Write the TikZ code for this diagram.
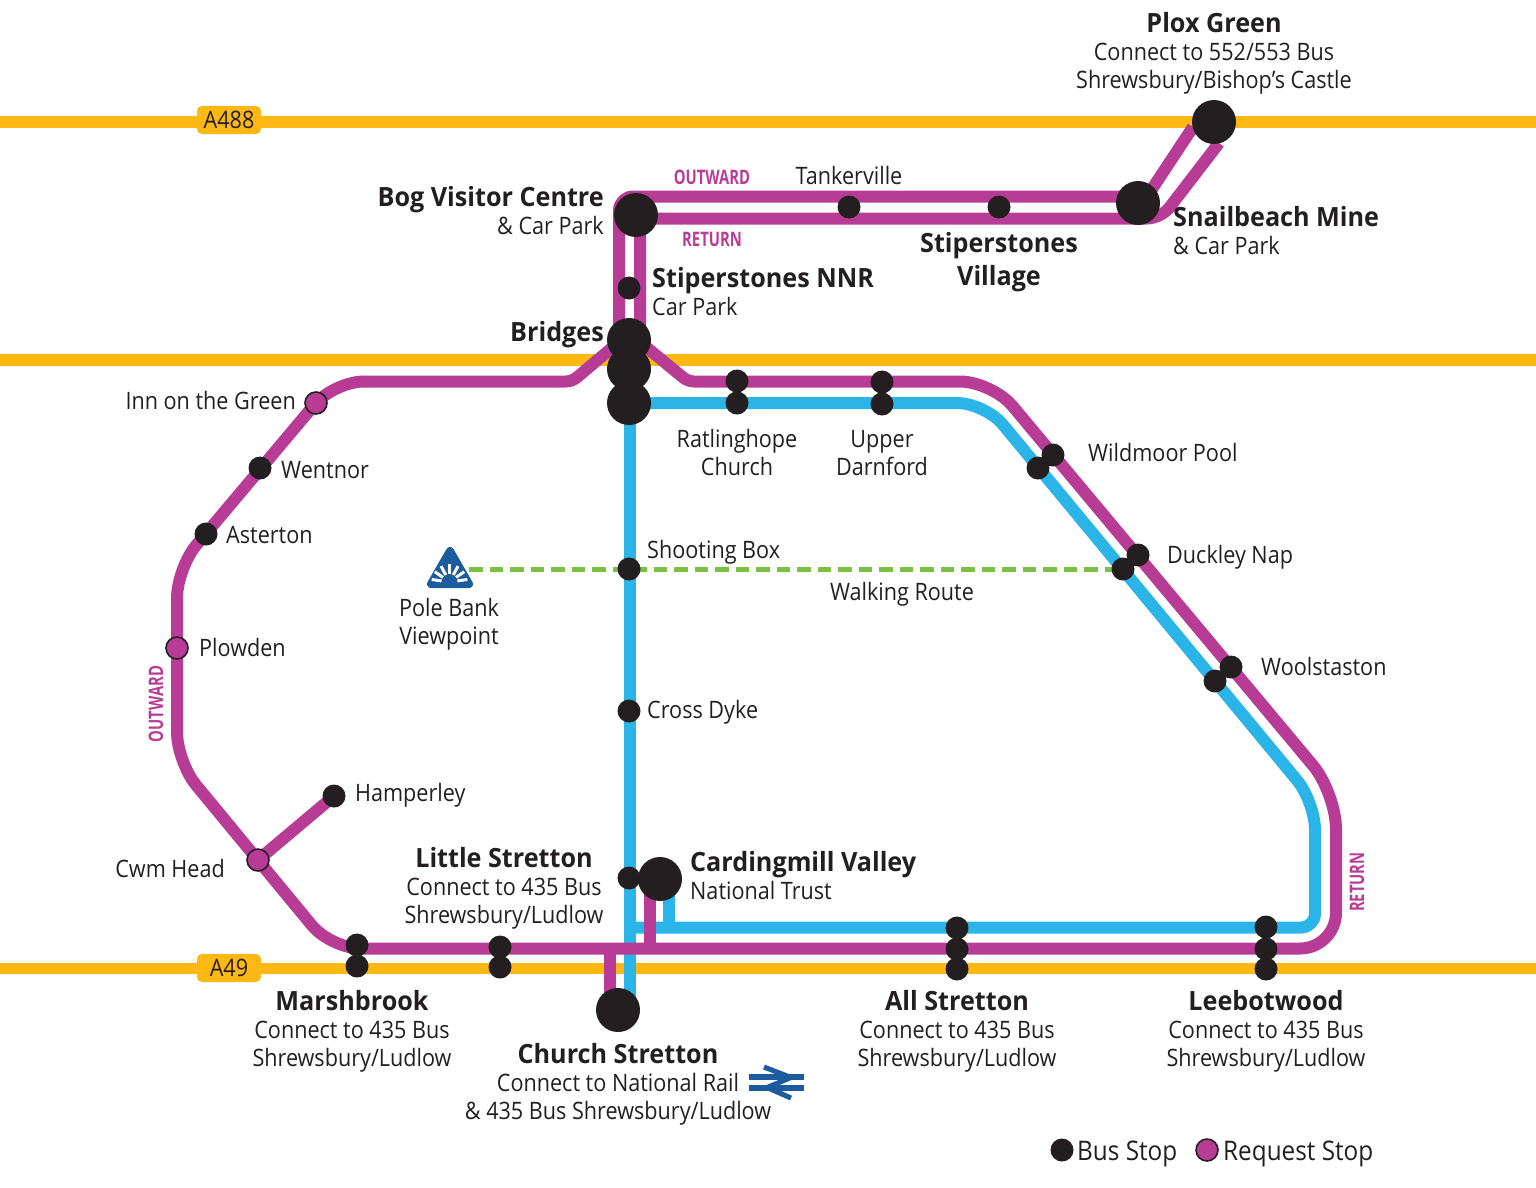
\documentclass[tikz,border=0pt]{standalone}
\usepackage{fontspec}
\setmainfont[FakeStretch=0.9,BoldFeatures={FakeStretch=0.95}]{Open Sans}
\newfontfamily\condfont[FakeStretch=0.74]{Open Sans}
\definecolor{rpurple}{HTML}{B83C96}
\definecolor{rorange}{HTML}{FDB813}
\definecolor{rblue}{HTML}{2AB4E8}
\definecolor{rdark}{HTML}{231F20}
\definecolor{rgreen}{HTML}{7AC143}
\definecolor{rnavy}{HTML}{1A5C9E}
\newcommand{\fs}{\rule{0pt}{20pt}}
\newcommand{\hd}[1]{{\fontsize{26.5}{28}\selectfont\bfseries #1}}
\tikzset{
  x=1pt,y=-1pt,
  road/.style={line width=11.5pt,color=rorange},
  bluel/.style={line width=12pt,color=rblue},
  purpl/.style={line width=12pt,color=rpurple},
  busstop/.style={circle,fill=rdark,inner sep=0pt,minimum size=23pt},
  hubstop/.style={circle,fill=rdark,inner sep=0pt,minimum size=44pt},
  reqstop/.style={circle,fill=rpurple,draw=rdark,line width=1.6pt,inner sep=0pt,minimum size=22pt},
  roadsign/.style={rounded corners=5pt,fill=rorange,minimum width=64pt,minimum height=28pt,inner sep=0pt,text=rdark,font=\fontsize{24}{28}\selectfont},
  txt/.style={inner sep=0pt,text=rdark,font=\fontsize{24}{28}\selectfont},
  lc/.style={txt,anchor=north,align=center},
  ll/.style={txt,anchor=north west,align=left},
  lr/.style={txt,anchor=north east,align=right},
  dirlab/.style={inner sep=0pt,text=rpurple,font=\fontsize{20}{22}\selectfont\condfont\bfseries},
}
\begin{document}
\begin{tikzpicture}
\useasboundingbox (0,0) rectangle (1536,1187);
% named stops
\coordinate (plox) at (1214,122);
\coordinate (snail) at (1138,203);
\coordinate (bog) at (636,215);
\coordinate (nnr) at (629,288);
\coordinate (br1) at (629,340);
\coordinate (br2) at (629,369);
\coordinate (br3) at (629,403);
\coordinate (church) at (618,1010);
\coordinate (card) at (660,879);
\coordinate (ham) at (334,796);
\coordinate (cwm) at (258,860);
% roads
\coordinate (rl1) at (0,122); \coordinate (rr1) at (1536,122);
\coordinate (rl2) at (0,360); \coordinate (rr2) at (1536,360);
\coordinate (rl3) at (0,968.5); \coordinate (rr3) at (1536,968.5);
\draw[road] (rl1) -- (rr1);
\draw[road] (rl2) -- (rr2);
\draw[road] (rl3) -- (rr3);
\node[roadsign] (a488) at (229,120) {A488};
\node[roadsign] (a49) at (229,968) {A49};
% blue route
\draw[bluel] (630,403) -- (630,1005);
\draw[bluel,line join=round] (br3)
  [rounded corners=28pt] -- (985,403) -- (1315,802)
  [rounded corners=14pt] -- (1315,927.5)
  [sharp corners] -- (630,927.5);
\draw[bluel] (669,880) -- (669,927.5);
% purple route
\draw[purpl,line join=round] (1193,127)
  [rounded corners=4pt] -- (1147,196.5)
  [rounded corners=14pt] -- (619,196.5)
  [sharp corners] -- (619,342)
  [rounded corners=6pt] -- (572,381.5)
  [rounded corners=30pt] -- (334,381.5) -- (177,568) -- (177,762) -- (331,948.5)
  [rounded corners=36pt] -- (1336,948.5) -- (1336,793)
  [rounded corners=32pt] -- (992,381.5)
  [rounded corners=6pt] -- (688,381.5)
  [sharp corners] -- (640,342) -- (640,218.5)
  [rounded corners=14pt] -- (1161,218.5) -- (1219,143);
\draw[purpl] (ham) -- (cwm);
\draw[purpl] (649.5,948.5) -- (649.5,880);
\draw[purpl] (610,948.5) -- (610,1005);
% walking route
\coordinate (vp) at (469,569);
\coordinate (wk) at (1123,569);
\draw[rgreen,line width=5pt,dash pattern=on 13.5pt off 7pt] (vp) -- (wk);
% hubs
\node[hubstop] (nplox) at (plox) {};
\node[hubstop] (nsnail) at (snail) {};
\node[hubstop] (nbog) at (bog) {};
\node[hubstop] (nbr1) at (br1) {};
\node[hubstop] (nbr2) at (br2) {};
\node[hubstop] (nbr3) at (br3) {};
\node[hubstop] (nchurch) at (church) {};
\node[hubstop] (ncard) at (card) {};
% bus stops
\node[busstop] (s1) at (849,207) {};
\node[busstop] (s2) at (999,207) {};
\node[busstop] (s3) at (nnr) {};
\node[busstop] (s4) at (737,381) {};
\node[busstop] (s5) at (737,403) {};
\node[busstop] (s6) at (882,382) {};
\node[busstop] (s7) at (882,404) {};
\node[busstop] (s8) at (1053,455) {};
\node[busstop] (s9) at (1038,468) {};
\node[busstop] (s10) at (1138,555) {};
\node[busstop] (s11) at (1123,569) {};
\node[busstop] (s12) at (1231,667) {};
\node[busstop] (s13) at (1215,681) {};
\node[busstop] (s14) at (260,468) {};
\node[busstop] (s15) at (206,534) {};
\node[busstop] (s16) at (629,569) {};
\node[busstop] (s17) at (629,711) {};
\node[busstop] (s18) at (ham) {};
\node[busstop] (s19) at (629,878) {};
\node[busstop] (s20) at (357,945) {};
\node[busstop] (s21) at (357,966) {};
\node[busstop] (s22) at (500,947) {};
\node[busstop] (s23) at (500,967) {};
\node[busstop] (s24) at (957,928) {};
\node[busstop] (s25) at (957,949) {};
\node[busstop] (s26) at (957,969) {};
\node[busstop] (s27) at (1266,927) {};
\node[busstop] (s28) at (1266,949) {};
\node[busstop] (s29) at (1266,969) {};
% request stops
\node[reqstop] (q1) at (316,403) {};
\node[reqstop] (q2) at (177,648) {};
\node[reqstop] (q3) at (cwm) {};
% labels
\node[lc] (tplox) at (1214,12) {\fs\hd{Plox Green}\\Connect to 552/553 Bus\\Shrewsbury/Bishop’s Castle};
\node[ll] (tsnail) at (1173,206) {\fs\hd{Snailbeach Mine}\\\& Car Park};
\node[lr] (tbog) at (604,186) {\fs\hd{Bog Visitor Centre}\\\& Car Park};
\node[lc] (ttank) at (849,164) {\fs Tankerville};
\node[lc,font=\fontsize{26.5}{33}\selectfont\bfseries] (tsv) at (999,232) {\fs Stiperstones\\Village};
\node[ll] (tnnr) at (652,267) {\fs\hd{Stiperstones NNR}\\Car Park};
\node[lr] (tbr) at (604,321) {\fs\hd{Bridges}};
\node[lr] (tinn) at (296,389) {\fs Inn on the Green};
\node[ll] (twen) at (281,458) {\fs Wentnor};
\node[ll] (tast) at (226,523) {\fs Asterton};
\node[ll] (tplo) at (199,636) {\fs Plowden};
\node[lc] (trat) at (737,427) {\fs Ratlinghope\\Church};
\node[lc] (tupp) at (882,427) {\fs Upper\\Darnford};
\node[ll] (twil) at (1088,441) {\fs Wildmoor Pool};
\node[ll] (tduc) at (1167,543) {\fs Duckley Nap};
\node[ll] (twoo) at (1261,655) {\fs Woolstaston};
\node[ll] (tsho) at (647,538) {\fs Shooting Box};
\node[lc] (twal) at (902,580) {\fs Walking Route};
\node[lc] (tpole) at (449,596) {\fs Pole Bank\\Viewpoint};
\node[ll] (tcro) at (647,698) {\fs Cross Dyke};
\node[ll] (tham) at (355,781) {\fs Hamperley};
\node[lr] (tcwm) at (225,857) {\fs Cwm Head};
\node[lc] (tlit) at (504,847) {\fs\hd{Little Stretton}\\Connect to 435 Bus\\Shrewsbury/Ludlow};
\node[ll] (tcar) at (690,851) {\fs\hd{Cardingmill Valley}\\National Trust};
\node[lc] (tmar) at (352,990) {\fs\hd{Marshbrook}\\Connect to 435 Bus\\Shrewsbury/Ludlow};
\node[lc] (tall) at (957,990) {\fs\hd{All Stretton}\\Connect to 435 Bus\\Shrewsbury/Ludlow};
\node[lc] (tlee) at (1266,990) {\fs\hd{Leebotwood}\\Connect to 435 Bus\\Shrewsbury/Ludlow};
\node[lc] (tchu) at (618,1043) {\fs\hd{Church Stretton}\\Connect to National Rail\\\& 435 Bus Shrewsbury/Ludlow};
% direction labels
\node[dirlab] (d1) at (712,177) {OUTWARD};
\node[dirlab] (d2) at (712,239) {RETURN};
\node[dirlab,rotate=90] (d3) at (156,704) {OUTWARD};
\node[dirlab,rotate=90] (d4) at (1357,882) {RETURN};
% legend
\node[busstop] (lg1) at (1062,1150) {};
\node[reqstop] (lg2) at (1207,1150) {};
\node[txt,anchor=base west,font=\fontsize{27}{30}\selectfont] (lg1t) at (1077,1160) {Bus Stop};
\node[txt,anchor=base west,font=\fontsize{27}{30}\selectfont] (lg2t) at (1223,1160) {Request Stop};
% rail symbol
\fill[rnavy] (749,1074) rectangle (804,1080);
\fill[rnavy] (749,1085) rectangle (804,1091);
\draw[rnavy,line width=5pt,line join=miter] (764,1067) -- (791,1077.5) -- (767,1087.5) -- (791,1098);
% viewpoint symbol
\draw[rnavy,fill=rnavy,line width=8pt,line join=round] (450,551) -- (431,584) -- (469,584) -- cycle;
\foreach \a in {8,35,62,90,118,145,172}{
  \draw[white,line width=3pt] ({449.5+8*cos(\a)},{582-8*sin(\a)}) -- ({449.5+18*cos(\a)},{582-18*sin(\a)});
}
\end{tikzpicture}
\end{document}
